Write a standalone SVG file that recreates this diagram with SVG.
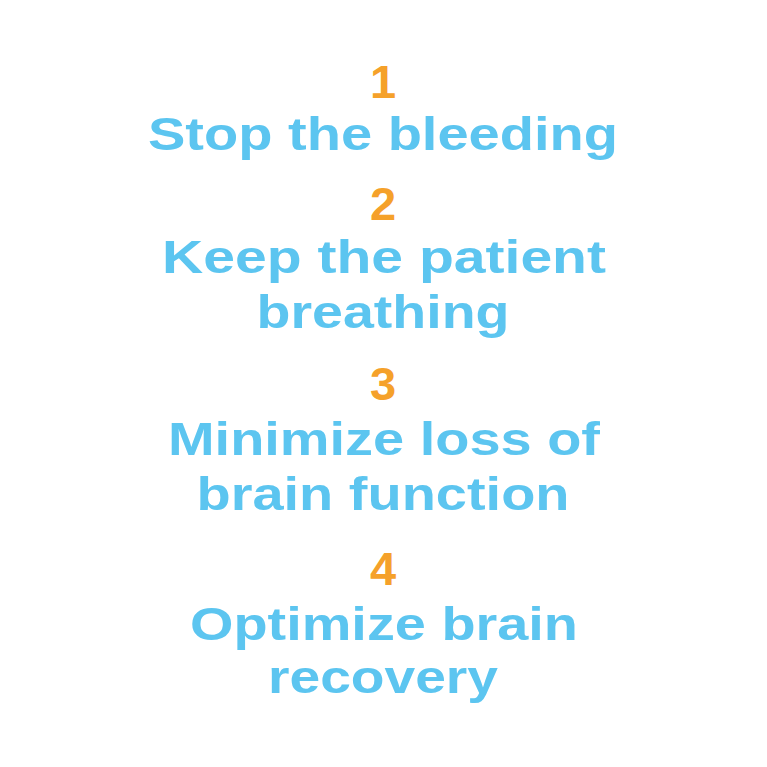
<svg xmlns="http://www.w3.org/2000/svg" width="767" height="767" viewBox="0 0 767 767">
<style>
text{font-family:"Liberation Sans",Arial,sans-serif;font-weight:bold;text-anchor:middle;font-size:47px}
.n{fill:#F5A12A}
.t{fill:#5CC5F0}
</style>
<rect width="767" height="767" fill="#fff"/>
<g id="step1"><text class="n" x="383" y="98">1</text><text class="t" x="383" y="150" textLength="470" lengthAdjust="spacingAndGlyphs">Stop the bleeding</text></g>
<g id="step2"><text class="n" x="383" y="220">2</text><text class="t" x="384" y="273" textLength="444" lengthAdjust="spacingAndGlyphs">Keep the patient</text><text class="t" x="383" y="328" textLength="253" lengthAdjust="spacingAndGlyphs">breathing</text></g>
<g id="step3"><text class="n" x="383" y="400">3</text><text class="t" x="384" y="455" textLength="432" lengthAdjust="spacingAndGlyphs">Minimize loss of</text><text class="t" x="383" y="510" textLength="373" lengthAdjust="spacingAndGlyphs">brain function</text></g>
<g id="step4"><text class="n" x="383" y="585">4</text><text class="t" x="384" y="640" textLength="388" lengthAdjust="spacingAndGlyphs">Optimize brain</text><text class="t" x="383" y="693" textLength="230" lengthAdjust="spacingAndGlyphs">recovery</text></g>
<g id="connectors"/>
</svg>
